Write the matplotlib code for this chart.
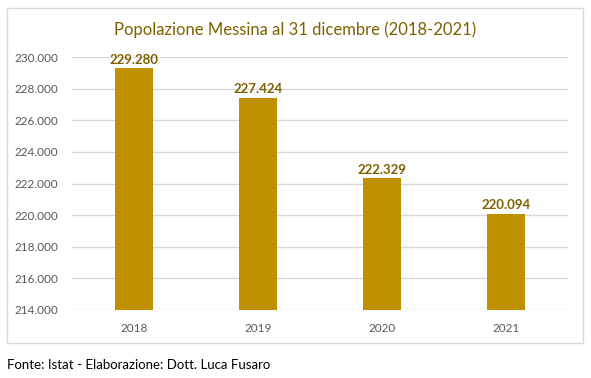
# encoding="utf-8"
# Popolazione Messina al 31 dicembre (2018-2021)

import matplotlib.pyplot as plt
from matplotlib.patches import Rectangle
from matplotlib.ticker import FuncFormatter

anni = ["2018", "2019", "2020", "2021"]
popolazione = [229280, 227424, 222329, 220094]
tick_y = [214000, 216000, 218000, 220000, 222000, 224000, 226000, 228000, 230000]

plt.rcParams['font.family'] = ['Lato', 'DejaVu Sans']


def punto(v, pos=None):
    # formato italiano: punto come separatore delle migliaia
    return f"{int(v):,}".replace(",", ".")


fig = plt.figure(figsize=(5.91, 3.78), dpi=100)
ax = fig.add_axes([72 / 591, 1 - 310 / 378, (568 - 72) / 591, (310 - 57) / 378])

# cornice del grafico
fig.patches.append(Rectangle((7 / 591, 1 - 343 / 378), 576 / 591, 335 / 378,
                             transform=fig.transFigure, fill=False,
                             edgecolor='#D9D9D9', linewidth=1))

x = range(len(anni))
bars = ax.bar(x, popolazione, width=0.31, color='#BF9000', zorder=3)
for b, v in zip(bars, popolazione):
    ax.text(b.get_x() + b.get_width() / 2, v + 150, punto(v), ha='center', va='bottom',
            fontsize=9.5, fontweight='bold', color='#7F6000')

ax.set_ylim(214000, 230000)
ax.set_xlim(-0.5, len(anni) - 0.5)
ax.set_yticks(tick_y)
ax.yaxis.set_major_formatter(FuncFormatter(punto))
ax.set_xticks(list(x))
ax.set_xticklabels(anni)
ax.grid(axis='y', color='#D9D9D9', linewidth=1, zorder=0)
for s in ax.spines.values():
    s.set_visible(False)
ax.tick_params(axis='both', length=0, labelsize=8.5, labelcolor='#595959')
ax.tick_params(axis='y', pad=10)
ax.tick_params(axis='x', pad=9)

fig.text(295 / 591, 1 - 30 / 378, "Popolazione Messina al 31 dicembre (2018-2021)",
         ha='center', va='center', fontsize=12, color='#7F6000')
fig.text(7 / 591, 1 - 365 / 378, "Fonte: Istat - Elaborazione: Dott. Luca Fusaro",
         ha='left', va='center', fontsize=9.5, color='black')

fig.savefig("out.png", dpi=100)
